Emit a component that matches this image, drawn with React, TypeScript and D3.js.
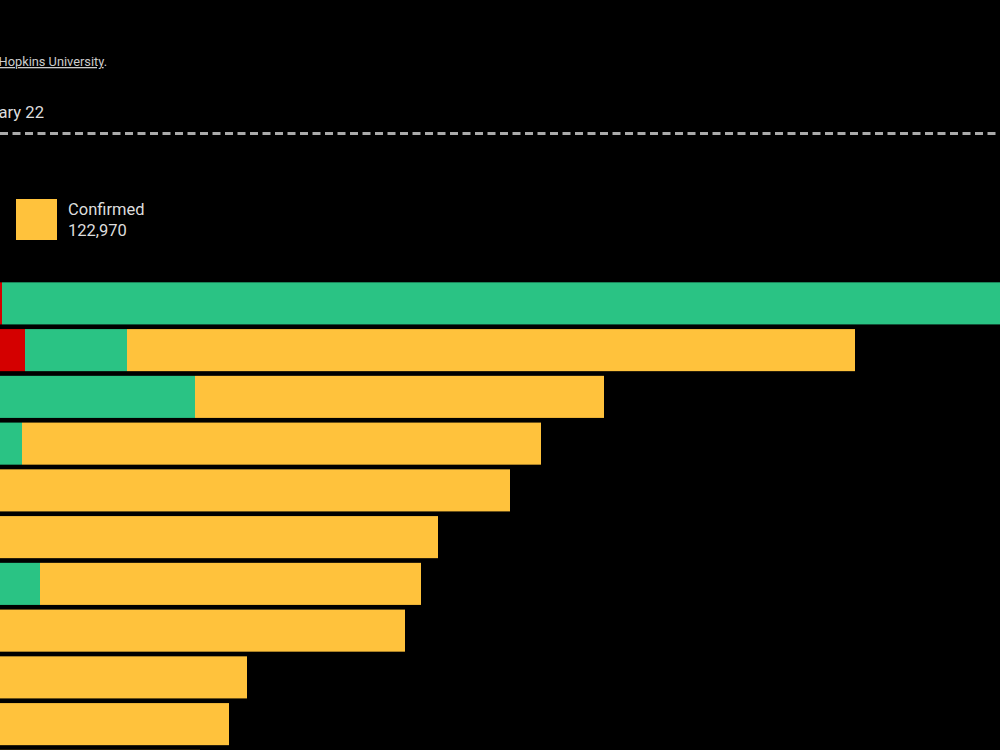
import React from "react";
import * as d3 from "d3";

const categories = ["Row 1", "Row 2", "Row 3", "Row 4", "Row 5", "Row 6", "Row 7", "Row 8", "Row 9", "Row 10", "Row 11"];
const deaths = [2200, 4500, 0, 0, 0, 0, 0, 0, 0, 0, 0];
const recovered = [105800, 10200, 21500, 4200, 0, 0, 6000, 0, 0, 0, 0];
const confirmed = [0, 72800, 40900, 51900, 53000, 45800, 38100, 42500, 26700, 24900, 22000];
const seriesKeys = ["deaths", "recovered", "confirmed"];
const seriesColors = ["#d40000", "#2ac384", "#ffc23c"];
const legendLabel = "Confirmed";
const legendValue = "122,970";
const dateLabel = "February 22";

export default function App() {
  React.useEffect(() => {
    document.body.style.margin = "0";
    document.body.style.background = "#000";
  }, []);
  const W = 1000, H = 750;
  const rows = categories.map((c, i) => ({ name: c, deaths: deaths[i], recovered: recovered[i], confirmed: confirmed[i] }));
  const stack = d3.stack<any>().keys(seriesKeys)(rows);
  const x = d3.scaleLinear().domain([0, 100000]).range([-20, 980]);
  const y = d3.scaleBand().domain(categories).range([280, 280 + 46.75 * 11]).paddingInner(0.1).paddingOuter(0.05);
  return (
    <svg width={W} height={H} style={{ display: "block", background: "#000", position: "absolute", left: 0, top: 0 }} fontFamily="Roboto, sans-serif">
      <text x={107} y={66} fontSize={12.8} fill="#ccc" textAnchor="end">
        <tspan>Data: </tspan>
        <tspan textDecoration="underline">Johns Hopkins University</tspan>
        <tspan>.</tspan>
      </text>
      <text x={44} y={118} fontSize={16.6} fill="#ddd" textAnchor="end">{dateLabel}</text>
      <line x1={0} x2={W} y1={133.5} y2={133.5} stroke="#aaa" strokeWidth={3} strokeDasharray="8,4.5" />
      <rect x={16} y={199} width={41} height={41} fill={seriesColors[2]} />
      <text x={68} y={215} fontSize={16.5} fill="#ddd">{legendLabel}</text>
      <text x={68} y={236} fontSize={16.5} fill="#ddd">{legendValue}</text>
      {stack.map((s, si) => (
        <g key={s.key} fill={seriesColors[si]}>
          {s.map((d, i) => (
            d[1] - d[0] > 0 ? (
              <rect key={i} x={x(d[0])} y={y(categories[i])} width={x(d[1]) - x(d[0])} height={y.bandwidth()} />
            ) : null
          ))}
        </g>
      ))}
    </svg>
  );
}
